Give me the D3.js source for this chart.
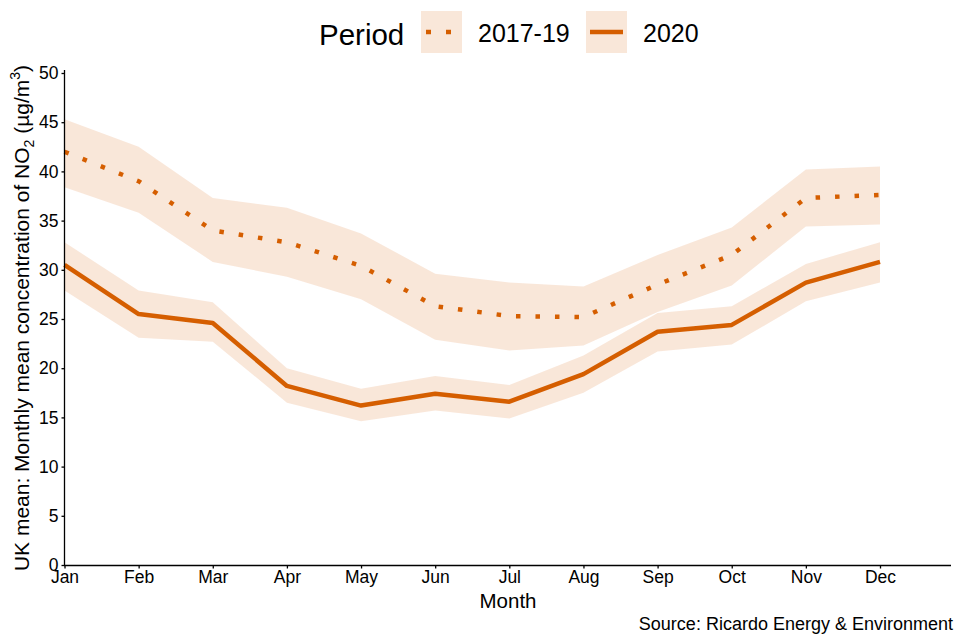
<!DOCTYPE html>
<html><head><meta charset="utf-8">
<script src="https://cdn.jsdelivr.net/npm/d3@7"></script>
<style>body{margin:0;background:#fff}svg{font-family:"Liberation Sans",Arial,sans-serif}</style>
</head><body><svg id="c" width="960" height="640"></svg>
<script>
const months = ["Jan","Feb","Mar","Apr","May","Jun","Jul","Aug","Sep","Oct","Nov","Dec"];
const yTicks = [0,5,10,15,20,25,30,35,40,45,50];
const base_mean  = [42.0,39.0,34.0,32.8,30.4,26.3,25.3,25.2,28.5,31.5,37.3,37.6];
const base_upper = [45.3,42.5,37.3,36.3,33.7,29.6,28.7,28.3,31.5,34.3,40.2,40.5];
const base_lower = [38.4,35.8,30.8,29.3,27.0,22.9,21.8,22.3,25.7,28.4,34.4,34.6];
const y20_mean  = [30.5,25.5,24.6,18.2,16.2,17.4,16.6,19.4,23.7,24.4,28.7,30.8];
const y20_upper = [32.8,27.9,26.7,20.0,17.9,19.2,18.3,21.3,25.6,26.3,30.6,32.8];
const y20_lower = [27.9,23.1,22.7,16.5,14.6,15.7,14.9,17.5,21.7,22.4,26.8,28.7];
const periods = ["2017-19","2020"];

const col = "#D55E00";
const FF = "Liberation Sans, Arial, sans-serif";
const svg = d3.select("#c");
const x = d3.scalePoint().domain(months).range([64.5,880]);
const y = d3.scaleLinear().domain([0,50]).range([565,73]);
const panelRight = 951;

const series = [
  {name:periods[0], mean:base_mean, up:base_upper, lo:base_lower, dash:"4.5 15"},
  {name:periods[1], mean:y20_mean, up:y20_upper, lo:y20_lower, dash:null}
];
const area = d3.area().x((d,i)=>x(months[i])).y0(d=>y(d[0])).y1(d=>y(d[1]));
const line = d3.line().x((d,i)=>x(months[i])).y(d=>y(d));

series.forEach(s=>{
  svg.append("path").datum(s.lo.map((v,i)=>[v,s.up[i]]))
    .attr("d",area).attr("fill",col).attr("fill-opacity",0.15);
});
series.forEach(s=>{
  const p = svg.append("path").datum(s.mean).attr("d",line)
    .attr("fill","none").attr("stroke",col).attr("stroke-width",4.5)
    .attr("stroke-linejoin","round");
  if (s.dash) p.attr("stroke-dasharray",s.dash).attr("stroke-linejoin","miter");
});

// axes
const yAxis = svg.append("g").attr("transform","translate(64.5,0)")
  .call(d3.axisLeft(y).tickValues(yTicks).tickSize(3).tickPadding(3));
yAxis.select(".domain").remove();
yAxis.append("line").attr("x1",0).attr("x2",0).attr("y1",70).attr("y2",565.5).attr("stroke","#000").attr("stroke-width",1.3);
yAxis.selectAll(".tick line").attr("stroke","#000").attr("stroke-width",1.3);
yAxis.selectAll(".tick text").attr("font-size",17.5).attr("fill","#000").attr("font-family",FF);

const xAxis = svg.append("g").attr("transform","translate(0,565.5)")
  .call(d3.axisBottom(x).tickSize(3).tickPadding(2));
xAxis.select(".domain").remove();
xAxis.append("line").attr("x1",64).attr("x2",panelRight).attr("y1",0).attr("y2",0).attr("stroke","#000").attr("stroke-width",1.3);
xAxis.selectAll(".tick line").attr("stroke","#000").attr("stroke-width",1.3);
xAxis.selectAll(".tick text").attr("font-size",17.5).attr("fill","#000").attr("font-family",FF);

// titles
svg.append("text").attr("x",508).attr("y",608).attr("text-anchor","middle")
  .attr("font-size",20.5).text("Month");
const yt = svg.append("text").attr("transform","translate(29,318) rotate(-90)")
  .attr("text-anchor","middle").attr("font-size",21);
yt.append("tspan").text("UK mean: Monthly mean concentration of NO");
yt.append("tspan").attr("font-size",14).attr("dy",5).text("2");
yt.append("tspan").attr("dy",-5).text(" (\u00b5g/m");
yt.append("tspan").attr("font-size",14).attr("dy",-9).text("3");
yt.append("tspan").attr("dy",9).text(")");

svg.append("text").attr("x",953).attr("y",630).attr("text-anchor","end")
  .attr("font-size",18).text("Source: Ricardo Energy & Environment");

// legend
svg.append("text").attr("x",319).attr("y",45).attr("font-size",29.5).text("Period");
const lg = [{x:421,tx:478},{x:586,tx:643}];
series.forEach((s,i)=>{
  const g = svg.append("g");
  g.append("rect").attr("x",lg[i].x).attr("y",11).attr("width",41).attr("height",42)
    .attr("fill",col).attr("fill-opacity",0.15);
  const l = g.append("line").attr("x1",lg[i].x+4).attr("x2",lg[i].x+37).attr("y1",32).attr("y2",32)
    .attr("stroke",col).attr("stroke-width",4.5);
  if (s.dash) l.attr("stroke-dasharray","5 15").attr("x1",lg[i].x+5);
  g.append("text").attr("x",lg[i].tx).attr("y",42).attr("font-size",25).text(s.name);
});
</script></body></html>
